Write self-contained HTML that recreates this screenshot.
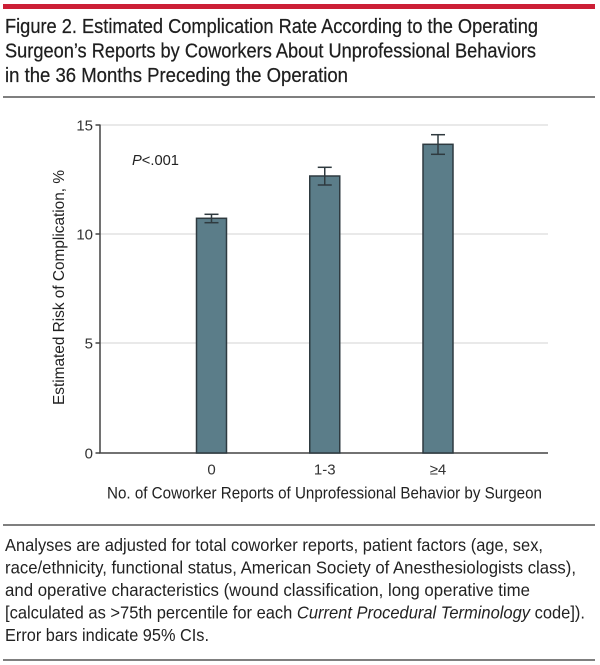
<!DOCTYPE html>
<html>
<head>
<meta charset="utf-8">
<style>
  html, body { margin:0; padding:0; background:#fff; }
  svg { display:block; }
  text { font-family: "Liberation Sans", "DejaVu Sans", sans-serif; }
</style>
</head>
<body>
<svg width="600" height="665" viewBox="0 0 600 665" xmlns="http://www.w3.org/2000/svg">
  <!-- top red bar -->
  <rect x="3" y="4" width="592" height="5" fill="#cc1f36"/>

  <!-- Title -->
  <g fill="#1e1e1e" font-size="20.5" stroke="#1e1e1e" stroke-width="0.25">
    <text x="5" y="33" textLength="533" lengthAdjust="spacingAndGlyphs">Figure 2. Estimated Complication Rate According to the Operating</text>
    <text x="5" y="57.5" textLength="531" lengthAdjust="spacingAndGlyphs">Surgeon’s Reports by Coworkers About Unprofessional Behaviors</text>
    <text x="5" y="82" textLength="343" lengthAdjust="spacingAndGlyphs">in the 36 Months Preceding the Operation</text>
  </g>
  <line x1="3" y1="97" x2="595" y2="97" stroke="#555" stroke-width="1.5"/>

  <!-- gridlines -->
  <g stroke="#e2e2e2" stroke-width="1.5">
    <line x1="100" y1="125" x2="548" y2="125"/>
    <line x1="100" y1="234" x2="548" y2="234"/>
    <line x1="100" y1="343" x2="548" y2="343"/>
  </g>

  <!-- axes -->
  <g stroke="#444" stroke-width="1.5">
    <line x1="100" y1="124.5" x2="100" y2="453"/>
    <line x1="99.25" y1="453" x2="548" y2="453"/>
    <line x1="95.5" y1="125" x2="100" y2="125"/>
    <line x1="95.5" y1="234" x2="100" y2="234"/>
    <line x1="95.5" y1="343" x2="100" y2="343"/>
    <line x1="95.5" y1="453" x2="100" y2="453"/>
  </g>

  <!-- y tick labels -->
  <g fill="#333" font-size="15" text-anchor="end">
    <text x="93" y="130.5">15</text>
    <text x="93" y="239.5">10</text>
    <text x="93" y="348.5">5</text>
    <text x="93" y="458.5">0</text>
  </g>

  <!-- y axis title -->
  <text transform="translate(64,287.5) rotate(-90)" text-anchor="middle" fill="#222" font-size="16" textLength="235" lengthAdjust="spacingAndGlyphs">Estimated Risk of Complication, %</text>

  <!-- P value -->
  <text x="132" y="165" fill="#222" font-size="15" textLength="47" lengthAdjust="spacingAndGlyphs"><tspan font-style="italic">P</tspan>&lt;.001</text>

  <!-- bars -->
  <g fill="#5b7d89" stroke="#2e3a40" stroke-width="1.5">
    <rect x="196.5" y="218.3" width="30" height="234.7"/>
    <rect x="309.75" y="176" width="30" height="277"/>
    <rect x="423" y="144.3" width="30" height="308.7"/>
  </g>

  <!-- error bars -->
  <g stroke="#2f3a3f" stroke-width="1.5" fill="none">
    <line x1="211.5" y1="214.3" x2="211.5" y2="222.7"/>
    <line x1="204.5" y1="214.3" x2="218.5" y2="214.3"/>
    <line x1="204.5" y1="222.7" x2="218.5" y2="222.7"/>

    <line x1="324.75" y1="167.3" x2="324.75" y2="185"/>
    <line x1="317.75" y1="167.3" x2="331.75" y2="167.3"/>
    <line x1="317.75" y1="185" x2="331.75" y2="185"/>

    <line x1="438" y1="134.7" x2="438" y2="154.3"/>
    <line x1="431" y1="134.7" x2="445" y2="134.7"/>
    <line x1="431" y1="154.3" x2="445" y2="154.3"/>
  </g>

  <!-- x tick labels -->
  <g fill="#333" font-size="15" text-anchor="middle">
    <text x="211.5" y="474.5">0</text>
    <text x="324.75" y="474.5">1-3</text>
    <text x="438" y="474.5">≥4</text>
  </g>

  <!-- x axis title -->
  <text x="107" y="498.5" fill="#222" font-size="16.5" textLength="435" lengthAdjust="spacingAndGlyphs">No. of Coworker Reports of Unprofessional Behavior by Surgeon</text>

  <!-- footnote -->
  <line x1="3" y1="525" x2="595" y2="525" stroke="#555" stroke-width="1.5"/>
  <g fill="#222" font-size="17.5">
    <text x="5" y="551" textLength="538" lengthAdjust="spacingAndGlyphs">Analyses are adjusted for total coworker reports, patient factors (age, sex,</text>
    <text x="5" y="573.5" textLength="571" lengthAdjust="spacingAndGlyphs">race/ethnicity, functional status, American Society of Anesthesiologists class),</text>
    <text x="5" y="596" textLength="525" lengthAdjust="spacingAndGlyphs">and operative characteristics (wound classification, long operative time</text>
    <text x="5" y="618.5" textLength="580" lengthAdjust="spacingAndGlyphs">[calculated as &gt;75th percentile for each <tspan font-style="italic">Current Procedural Terminology</tspan> code]).</text>
    <text x="5" y="641" textLength="204" lengthAdjust="spacingAndGlyphs">Error bars indicate 95% CIs.</text>
  </g>
  <line x1="3" y1="660" x2="595" y2="660" stroke="#555" stroke-width="1.5"/>
</svg>
</body>
</html>
